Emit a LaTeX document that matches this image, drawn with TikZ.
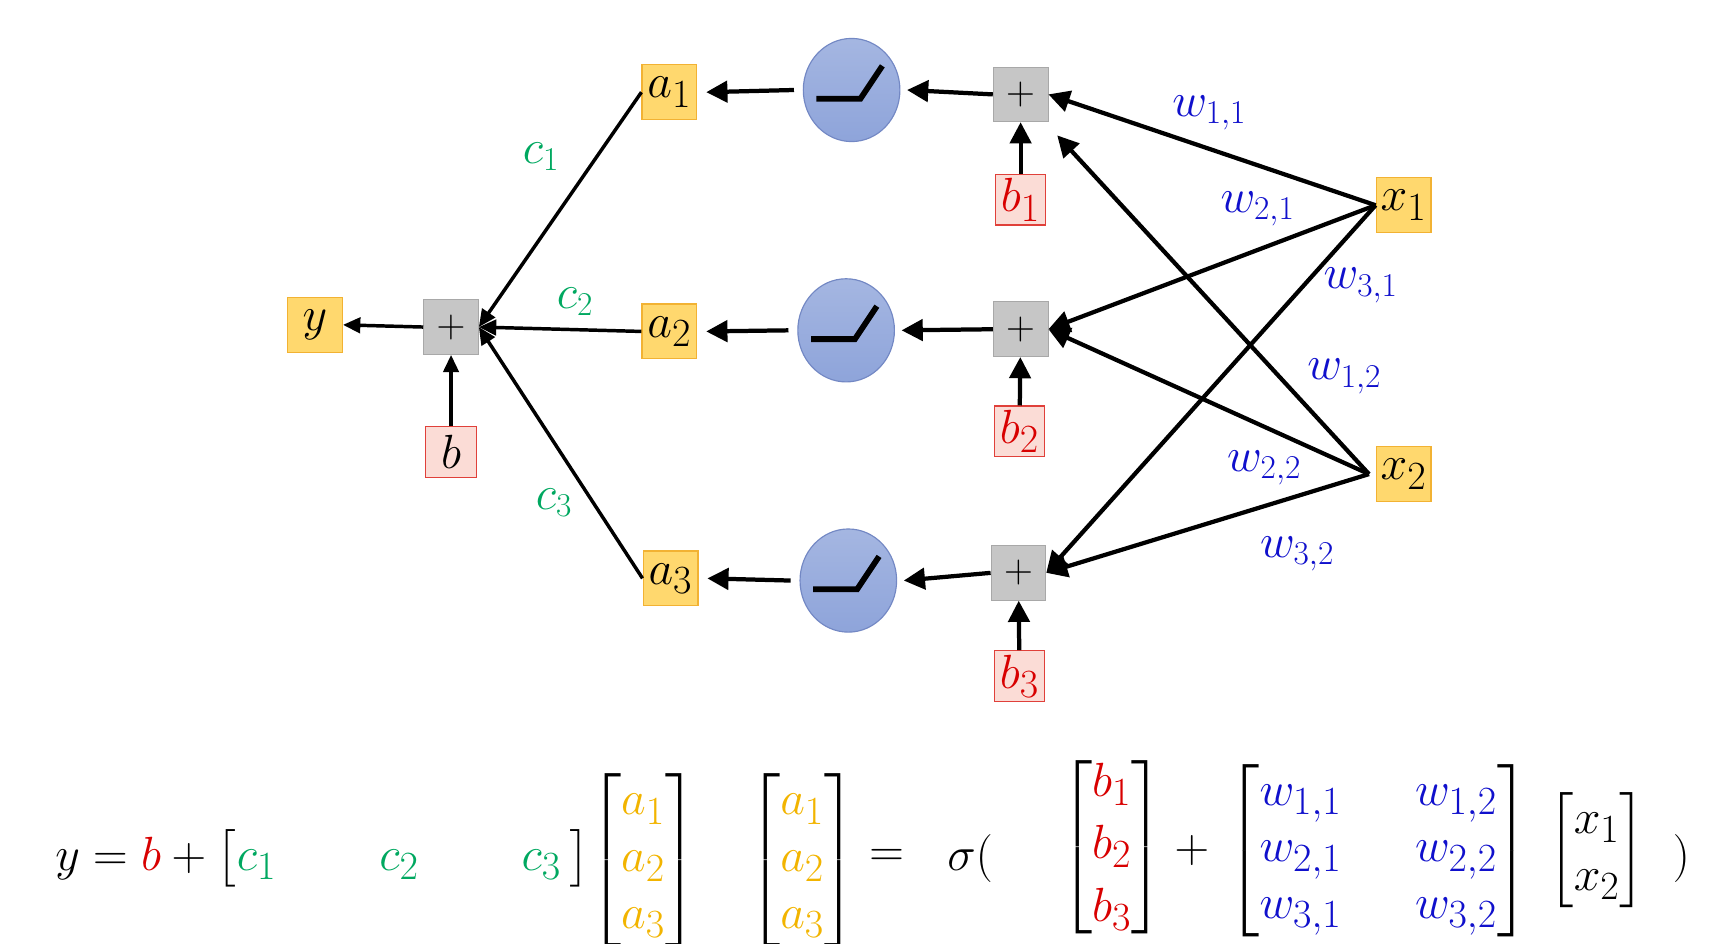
\documentclass[tikz,border=0pt]{standalone}
\usepackage{amsmath}
\usetikzlibrary{arrows.meta,shapes.geometric}
\definecolor{org}{HTML}{FFD86E}\definecolor{orgb}{HTML}{F2B233}
\definecolor{gr}{HTML}{C6C6C6}\definecolor{grb}{HTML}{A8A8A8}
\definecolor{pk}{HTML}{FBDCD6}\definecolor{pkb}{HTML}{E0403A}
\definecolor{cir}{HTML}{8EA4DA}\definecolor{cirb}{HTML}{7388C4}
\definecolor{cg}{HTML}{00A860}\definecolor{cb}{HTML}{1010CC}\definecolor{cr}{HTML}{D80000}\definecolor{cy}{HTML}{F2B400}
\begin{document}
\begin{tikzpicture}[x=0.02cm,y=-0.02cm,
 lbl/.style={font=\fontsize{28}{32}\selectfont},
 var/.style={lbl,draw=orgb,fill=org,minimum width=50*0.02cm,minimum height=50*0.02cm,inner sep=0pt,line width=0.6pt},
 pl/.style={draw=grb,fill=gr,minimum size=50*0.02cm,inner sep=0pt,font=\fontsize{22}{24}\selectfont},
 bias/.style={lbl,draw=pkb,fill=pk,minimum size=46*0.02cm,inner sep=0pt,text=cr,line width=0.6pt},
 relu/.style={ellipse,draw=cirb,top color=cir!80!white,bottom color=cir,minimum width=88*0.02cm,minimum height=94*0.02cm,line width=0.6pt},
 ar/.style={-{Triangle[length=11pt,width=11pt]},line width=2.2pt},
 ars/.style={-{Triangle[length=9pt,width=8pt]},line width=1.8pt},
 wl/.style={lbl,text=cb,font=\fontsize{24}{28}\selectfont},
 cl/.style={lbl,text=cg,font=\fontsize{24}{28}\selectfont},
 fm/.style={font=\fontsize{28}{32}\selectfont,inner sep=0pt}]
\useasboundingbox (0,0) rectangle (1560,860);
\node[var] (y) at (287,296) {$y$};
\node[pl] (p0) at (411,298) {$+$};
\node[bias,text=black] (b) at (411,412) {$b$};
\node[var] (a1) at (610,84) {$a_1$};
\node[var] (a2) at (610,302) {$a_2$};
\node[var] (a3) at (611,527) {$a_3$};
\node[relu] (r1) at (776,82) {};
\node[relu] (r2) at (771,301) {};
\node[relu] (r3) at (773,529) {};
\foreach \r in {r1,r2,r3}{
 \draw[line width=3pt] ([xshift=-32*0.02cm,yshift=-8*0.02cm]\r.center) -- ([xshift=8*0.02cm,yshift=-8*0.02cm]\r.center) -- ([xshift=28*0.02cm,yshift=22*0.02cm]\r.center);}
\node[pl] (p1) at (930,86) {$+$};
\node[pl] (p2) at (930,300) {$+$};
\node[pl] (p3) at (928,522) {$+$};
\node[bias] (b1) at (930,182) {$b_1$};
\node[bias] (b2) at (929,393) {$b_2$};
\node[bias] (b3) at (929,616) {$b_3$};
\node[var] (x1) at (1279,187) {$x_1$};
\node[var] (x2) at (1279,432) {$x_2$};
% arrows
\draw[ars] (p0.west) -- (y.east);
\draw[ars] (b) -- (p0);
\draw[ars] (a1.west) -- (p0.east);
\draw[ars] (a2.west) -- (p0.east);
\draw[ars] (a3.west) -- (p0.east);
\foreach \i in {1,2,3}{
 \draw[ar] ([xshift=-8*0.02cm]r\i.west) -- ([xshift=8*0.02cm]a\i.east);
 \draw[ar] (p\i.west) -- ([xshift=6*0.02cm]r\i.east);
 \draw[ar] (b\i) -- (p\i);}
\draw[ar] (x1.west) -- (p1.east);
\draw[ar] (x1.west) -- (p2.east);
\draw[ar] (x1.west) -- (p3.east);
\draw[ar] ([xshift=-6*0.02cm]x2.west) -- ([yshift=-12*0.02cm,xshift=8*0.02cm]p1.south east);
\draw[ar] ([xshift=-6*0.02cm]x2.west) -- (p2.east);
\draw[ar] ([xshift=-6*0.02cm]x2.west) -- (p3.east);
% labels
\node[cl] (lc1) at (493,143) {$c_1$};
\node[cl] (lc2) at (524,275) {$c_2$};
\node[cl] (lc3) at (505,458) {$c_3$};
\node[wl] (l11) at (1102,103) {$w_{1,1}$};
\node[wl] (l21) at (1146,190) {$w_{2,1}$};
\node[wl] (l31) at (1240,260) {$w_{3,1}$};
\node[wl] (l12) at (1225,343) {$w_{1,2}$};
\node[wl] (l22) at (1152,426) {$w_{2,2}$};
\node[wl] (l32) at (1182,505) {$w_{3,2}$};
% formula
\renewcommand{\arraystretch}{0.92}
\node[fm,anchor=west] (f1) at (50,782) {$y=\textcolor{cr}{b}+\big[\textcolor{cg}{c_1}\quad\ \ \ \textcolor{cg}{c_2}\quad\ \ \ \textcolor{cg}{c_3}\,\big]$};
\node[fm] (f2) at (586,784) {$\begin{bmatrix}\textcolor{cy}{a_1}\\\textcolor{cy}{a_2}\\\textcolor{cy}{a_3}\end{bmatrix}$};
\node[fm] (f3) at (731,784) {$\begin{bmatrix}\textcolor{cy}{a_1}\\\textcolor{cy}{a_2}\\\textcolor{cy}{a_3}\end{bmatrix}$};
\node[fm] (f4) at (808,782) {$=$};
\node[fm] (f5) at (884,782) {$\sigma($};
\node[fm] (f6) at (1013,772) {$\begin{bmatrix}\textcolor{cr}{b_1}\\[3pt]\textcolor{cr}{b_2}\\[3pt]\textcolor{cr}{b_3}\end{bmatrix}$};
\node[fm] (f7) at (1086,775) {$+$};
\node[fm] (f8) at (1256,775) {$\begin{bmatrix}\textcolor{cb}{w_{1,1}}&\quad\textcolor{cb}{w_{1,2}}\\\textcolor{cb}{w_{2,1}}&\quad\textcolor{cb}{w_{2,2}}\\\textcolor{cb}{w_{3,1}}&\quad\textcolor{cb}{w_{3,2}}\end{bmatrix}$};
\node[fm] (f9) at (1455,775) {$\begin{bmatrix}x_1\\x_2\end{bmatrix}$};
\node[fm] (f10) at (1532,782) {$)$};
\end{tikzpicture}
\end{document}
